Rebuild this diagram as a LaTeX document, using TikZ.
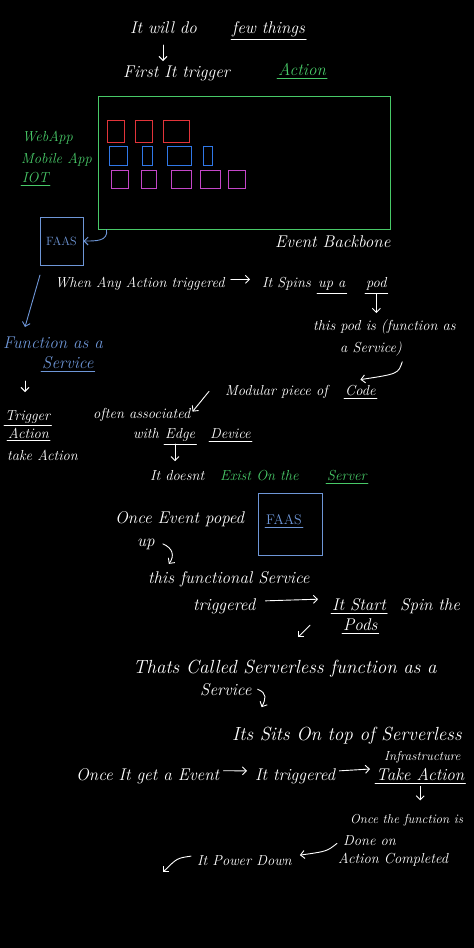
\documentclass[tikz,border=0pt]{standalone}
\usetikzlibrary{arrows.meta}
\definecolor{chalkgreen}{RGB}{72,201,104}
\definecolor{chalkred}{RGB}{226,52,58}
\definecolor{chalkblue}{RGB}{48,120,232}
\definecolor{chalkpink}{RGB}{196,70,200}
\definecolor{chalksky}{RGB}{110,150,215}

\tikzset{
  note/.style={text=white, anchor=base west, inner sep=0pt, font=\fontsize{17}{19}\selectfont\itshape},
  small/.style={note, font=\fontsize{14.5}{16}\selectfont\itshape},
  tiny/.style={note, font=\fontsize{13}{15}\selectfont\itshape},
  big/.style={note, font=\fontsize{19}{22}\selectfont\itshape},
  ink/.style={white, line width=0.9pt, line cap=round},
  arr/.style={ink, -{Straight Barb[length=4pt]}},
  uline/.style={ink, shorten <=-1pt, shorten >=-1pt},
  box/.style={draw, line width=1pt, inner sep=0pt}
}

\begin{document}
\begin{tikzpicture}[x=1pt,y=-1pt]
\fill[black] (0,0) rectangle (474,948);
\useasboundingbox (0,0) rectangle (474,948);

% heading
\node[note] (itwill) at (130,33) {It will do};
\node[note] (few) at (232,33) {few things};
\draw[uline] ([yshift=-3pt]few.south west) -- ([yshift=-3pt]few.south east);
\coordinate (d1) at (163,45);
\node[note] (first) at (123,77) {First It trigger};
\node[note, text=chalkgreen] (action) at (278,75) {Action};
\draw[uline, chalkgreen] ([yshift=-3pt]action.south west) -- ([yshift=-3pt]action.south east);
\draw[arr] (d1) -- ++(0,16);

% event backbone
\node[box, draw=chalkgreen, minimum width=292pt, minimum height=133pt] (backbone) at (244,162.5) {};
\foreach \xa/\xb in {107/124,135/152,163/189}
  \draw[chalkred, line width=1pt] (\xa,120) rectangle (\xb,142);
\foreach \xa/\xb in {109/127,142/152,167/191,203/212}
  \draw[chalkblue, line width=1pt] (\xa,146) rectangle (\xb,165);
\foreach \xa/\xb in {111/128,141/156,171/191,200/220,228/245}
  \draw[chalkpink, line width=1pt] (\xa,170) rectangle (\xb,188);
\node[small, text=chalkgreen] (web) at (22,141) {WebApp};
\node[small, text=chalkgreen] (mobile) at (21,163) {Mobile App};
\node[small, text=chalkgreen] (iot) at (22,182) {IOT};
\draw[uline, chalkgreen] ([yshift=-3pt]iot.south west) -- ([yshift=-3pt]iot.south east);
\node[note] (bb) at (275,247) {Event Backbone};

% faas
\node[box, draw=chalksky, minimum width=43pt, minimum height=48pt, text=chalksky, font=\fontsize{12}{14}\selectfont] (faas) at (61.5,241) {FAAS};
\draw[arr, chalksky] ([xshift=9pt]backbone.south west) .. controls +(2,12) and +(12,0) .. (faas.east);
\node[note, text=chalksky] (fn) at (3,348) {Function as a};
\node[note, text=chalksky] (svc) at (42,368) {Service};
\draw[uline, chalksky] ([yshift=-3pt]svc.south west) -- ([yshift=-3pt]svc.south east);
\coordinate (f1) at (40,275);
\coordinate (f2) at (25,327);
\draw[arr, chalksky] (f1) -- (f2);
\coordinate (t1) at (25,381);
\draw[arr] (t1) -- ++(0,11);
\node[small] (trig) at (5,420) {Trigger};
\draw[uline] ([yshift=-2pt]trig.south west) -- ([yshift=-2pt]trig.south east);
\node[small] (tact) at (8,438) {Action};
\draw[uline] ([yshift=-2pt]tact.south west) -- ([yshift=-2pt]tact.south east);
\node[small] (take) at (7,460) {take Action};

% pod
\node[small] (when) at (55,287) {When Any Action triggered};
\node[small] (spins) at (262,287) {It Spins};
\node[small] (upa) at (318,287) {up a};
\node[small] (pod) at (366,287) {pod};
\draw[uline] ([yshift=-3pt]upa.south west) -- ([yshift=-3pt]upa.south east);
\draw[uline] ([yshift=-3pt]pod.south west) -- ([yshift=-3pt]pod.south east);
\draw[arr] ([xshift=6pt,yshift=4pt]when.east) -- ([xshift=-12pt,yshift=4pt]spins.west);
\node[small] (thispod) at (313,330) {this pod is (function as};
\node[small] (asvc) at (340,352) {a Service)};
\draw[arr] ([yshift=-4pt]pod.south) -- ([yshift=6pt]thispod.north -| pod.south);
\node[small] (modular) at (225,395) {Modular piece of};
\node[small] (code) at (345,395) {Code};
\draw[uline] ([yshift=-3pt]code.south west) -- ([yshift=-3pt]code.south east);
\draw[arr] ([yshift=-6pt]asvc.south east) .. controls +(-4,12) .. ([yshift=5pt]code.north);
\node[small] (often) at (93,418) {often associated};
\node[small] (with) at (133,438) {with};
\node[small] (edge) at (165,438) {Edge};
\node[small] (device) at (210,438) {Device};
\draw[uline] ([yshift=-3pt]edge.south west) -- ([yshift=-3pt]edge.south east);
\draw[uline] ([yshift=-3pt]device.south west) -- ([yshift=-3pt]device.south east);
\draw[arr] ([xshift=-16pt]modular.west) -- ([xshift=2pt,yshift=-4pt]often.north east);

% doesnt exist
\node[small] (doesnt) at (150,480) {It doesnt};
\node[small, text=chalkgreen] (exist) at (220,480) {Exist On the};
\node[small, text=chalkgreen] (server) at (327,480) {Server};
\draw[uline, chalkgreen] ([yshift=-3pt]server.south west) -- ([yshift=-3pt]server.south east);
\draw[arr] ([yshift=-3pt]edge.south west) ++(10,0) -- ++(0,17);

% once event poped up
\node[note] (once) at (115,523) {Once Event poped};
\node[note] (up) at (137,546) {up};
\node[box, draw=chalksky, minimum width=64pt, minimum height=62pt] (faas2) at (290,524) {};
\node[note, text=chalksky, font=\fontsize{14}{16}\selectfont] (faaslbl) at (266,524) {FAAS};
\draw[uline, chalksky] ([yshift=-3pt]faaslbl.south west) -- ([yshift=-3pt]faaslbl.south east);
\draw[arr] ([xshift=8pt]up.east) .. controls +(10,4) and +(6,-8) .. ++(6,20);
\node[note] (thisfn) at (148,583) {this functional Service};
\node[note] (triggered) at (193,610) {triggered};
\node[note] (start) at (332,610) {It Start};
\node[note] (spin) at (400,610) {Spin the};
\draw[uline] ([yshift=-3pt]start.south west) -- ([yshift=-3pt]start.south east);
\draw[arr] ([xshift=10pt,yshift=5pt]triggered.east) -- ([xshift=-14pt,yshift=5pt]start.west);
\node[note] (pods) at (343,630) {Pods};
\draw[uline] ([yshift=-3pt]pods.south west) -- ([yshift=-3pt]pods.south east);
\draw[arr] ([xshift=-33pt,yshift=-1pt]pods.west) -- ++(-12,12);

% serverless
\node[big] (thats) at (133,673) {Thats Called Serverless function as a};
\node[note] (svc2) at (200,695) {Service};
\draw[arr] ([xshift=6pt]svc2.east) .. controls +(10,4) and +(4,-8) .. ++(4,18);
\node[big] (sits) at (232,740) {Its Sits On top of Serverless};
\node[tiny] (infra) at (384,760) {Infrastructure};

% event flow
\node[note] (geta) at (76,780) {Once It get a Event};
\node[note] (ittrig) at (255,780) {It triggered};
\node[note] (takeact) at (376,780) {Take Action};
\draw[uline] ([yshift=-3pt]takeact.south west) -- ([yshift=-3pt]takeact.south east);
\draw[arr] ([xshift=4pt,yshift=5pt]geta.east) -- ([xshift=-8pt,yshift=5pt]ittrig.west);
\draw[arr] ([xshift=4pt,yshift=5pt]ittrig.east) -- ([xshift=-6pt,yshift=5pt]takeact.west);
\draw[arr] ([yshift=-6pt]takeact.south) -- ++(0,14);
\node[tiny] (oncefn) at (350,823) {Once the function is};
\node[small] (done) at (343,845) {Done on};
\node[small] (compl) at (338,863) {Action Completed};
\node[small] (power) at (197,865) {It Power Down};
\draw[arr] ([xshift=-6pt,yshift=2pt]done.south west) .. controls +(-10,8) .. ([xshift=8pt,yshift=5pt]power.east);
\draw[arr] ([xshift=-6pt,yshift=4pt]power.west) .. controls +(-14,2) .. ++(-28,16);
\end{tikzpicture}
\end{document}
